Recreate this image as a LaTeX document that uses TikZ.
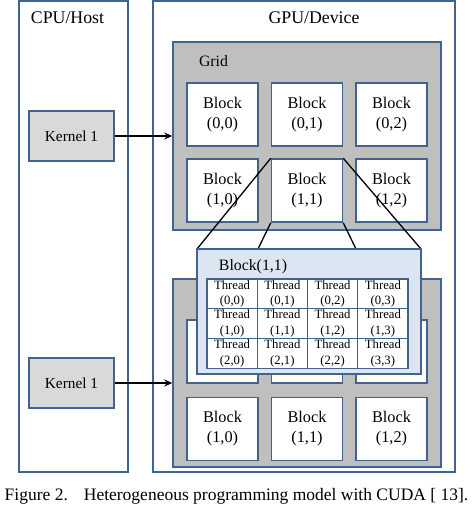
\documentclass[tikz,border=0pt]{standalone}
\usepackage{fontspec}
\setmainfont{Liberation Serif}
\usetikzlibrary{arrows.meta,positioning}

\definecolor{edgeblue}{HTML}{41648E}
\definecolor{gridgray}{HTML}{BFBFBF}
\definecolor{kerngray}{HTML}{D9D9D9}
\definecolor{zoomblue}{HTML}{DCE6F2}

\begin{document}
\begin{tikzpicture}[x=1pt, y=-1pt,
    side/.style={draw=edgeblue, line width=1.5pt, inner sep=0pt, minimum height=471pt},
    grid/.style={draw=edgeblue, fill=gridgray, line width=1.5pt, minimum width=268pt, minimum height=188pt},
    blk/.style={draw=edgeblue, fill=white, line width=1.5pt, minimum width=71pt, minimum height=63pt, inner sep=0pt, align=center, font=\fontsize{16.3}{20}\selectfont},
    kern/.style={draw=edgeblue, fill=kerngray, line width=1.5pt, minimum width=85pt, minimum height=50pt, font=\fontsize{15.3}{18}\selectfont},
    zoom/.style={draw=edgeblue, fill=zoomblue, line width=1.5pt, minimum width=224pt, minimum height=125pt},
    thr/.style={draw=edgeblue, fill=white, line width=1.2pt, minimum width=50.25pt, minimum height=29.7pt, inner sep=0pt, align=center, font=\fontsize{12.7}{15.5}\selectfont},
    lbl/.style={inner sep=0pt, font=\fontsize{17.8}{20}\selectfont},
    arr/.style={-{Stealth[length=8pt, width=7pt]}, line width=1.3pt}
]
\useasboundingbox (0,0) rectangle (474,511);

\node[side, minimum width=109pt] (host) at (73.5,236.5) {};
\node[side, minimum width=302pt] (dev) at (304,236.5) {};
\node[lbl] (hostlbl) at (67.5,18) {CPU/Host};
\node[lbl] (devlbl) at (314,18) {GPU/Device};

\node[kern] (kern1) at (71.5,136) {Kernel 1};
\node[kern] (kern2) at (71.5,383) {Kernel 1};

\node[grid] (grid1) at (307,136) {};
\node[lbl, font=\fontsize{15.8}{18}\selectfont] (gridlbl) at (213.5,61) {Grid};
\node[blk] (b00) at (222.5,114.5) {Block\\(0,0)};
\node[blk] (b01) at (307,114.5) {Block\\(0,1)};
\node[blk] (b02) at (391.5,114.5) {Block\\(0,2)};
\node[blk] (b10) at (222.5,190.5) {Block\\(1,0)};
\node[blk] (b11) at (307,190.5) {Block\\(1,1)};
\node[blk] (b12) at (391.5,190.5) {Block\\(1,2)};

\node[grid] (grid2) at (307,373) {};
\node[blk] (c00) at (222.5,351.5) {};
\node[blk] (c01) at (307,351.5) {};
\node[blk] (c02) at (391.5,351.5) {};
\node[blk] (c10) at (222.5,429) {Block\\(1,0)};
\node[blk] (c11) at (307,429) {Block\\(1,1)};
\node[blk] (c12) at (391.5,429) {Block\\(1,2)};

\draw[arr] (kern1) -- (grid1.west);
\draw[arr] (kern2) -- (kern2 -| grid2.west);

\coordinate (zwl) at (197,249);
\coordinate (zl) at (258,249);
\coordinate (zr) at (356,249);
\coordinate (zwr) at (421,249);
\draw[line width=1.3pt] (b11.north west) -- (zwl);
\draw[line width=1.3pt] (b11.north east) -- (zwr);
\draw[line width=1.3pt] (b11.south west) -- (zl);
\draw[line width=1.3pt] (b11.south east) -- (zr);
\node[zoom] (zoom) at (309,311.5) {};
\node[lbl, font=\fontsize{15.8}{18}\selectfont] (zoomlbl) at (253,267) {Block(1,1)};

\node[thr] (t00) at (232.1,293.9) {Thread\\(0,0)};
\node[thr] (t01) at (282.4,293.9) {Thread\\(0,1)};
\node[thr] (t02) at (332.6,293.9) {Thread\\(0,2)};
\node[thr] (t03) at (382.9,293.9) {Thread\\(0,3)};
\node[thr] (t10) at (232.1,323.6) {Thread\\(1,0)};
\node[thr] (t11) at (282.4,323.6) {Thread\\(1,1)};
\node[thr] (t12) at (332.6,323.6) {Thread\\(1,2)};
\node[thr] (t13) at (382.9,323.6) {Thread\\(1,3)};
\node[thr] (t20) at (232.1,353.3) {Thread\\(2,0)};
\node[thr] (t21) at (282.4,353.3) {Thread\\(2,1)};
\node[thr] (t22) at (332.6,353.3) {Thread\\(2,2)};
\node[thr] (t23) at (382.9,353.3) {Thread\\(3,3)};

\node[inner sep=0pt, font=\fontsize{17.5}{20}\selectfont] (cap) at (236.5,496) {Figure 2.\hspace{16pt}Heterogeneous programming model with CUDA [ 13].};
\end{tikzpicture}
\end{document}
